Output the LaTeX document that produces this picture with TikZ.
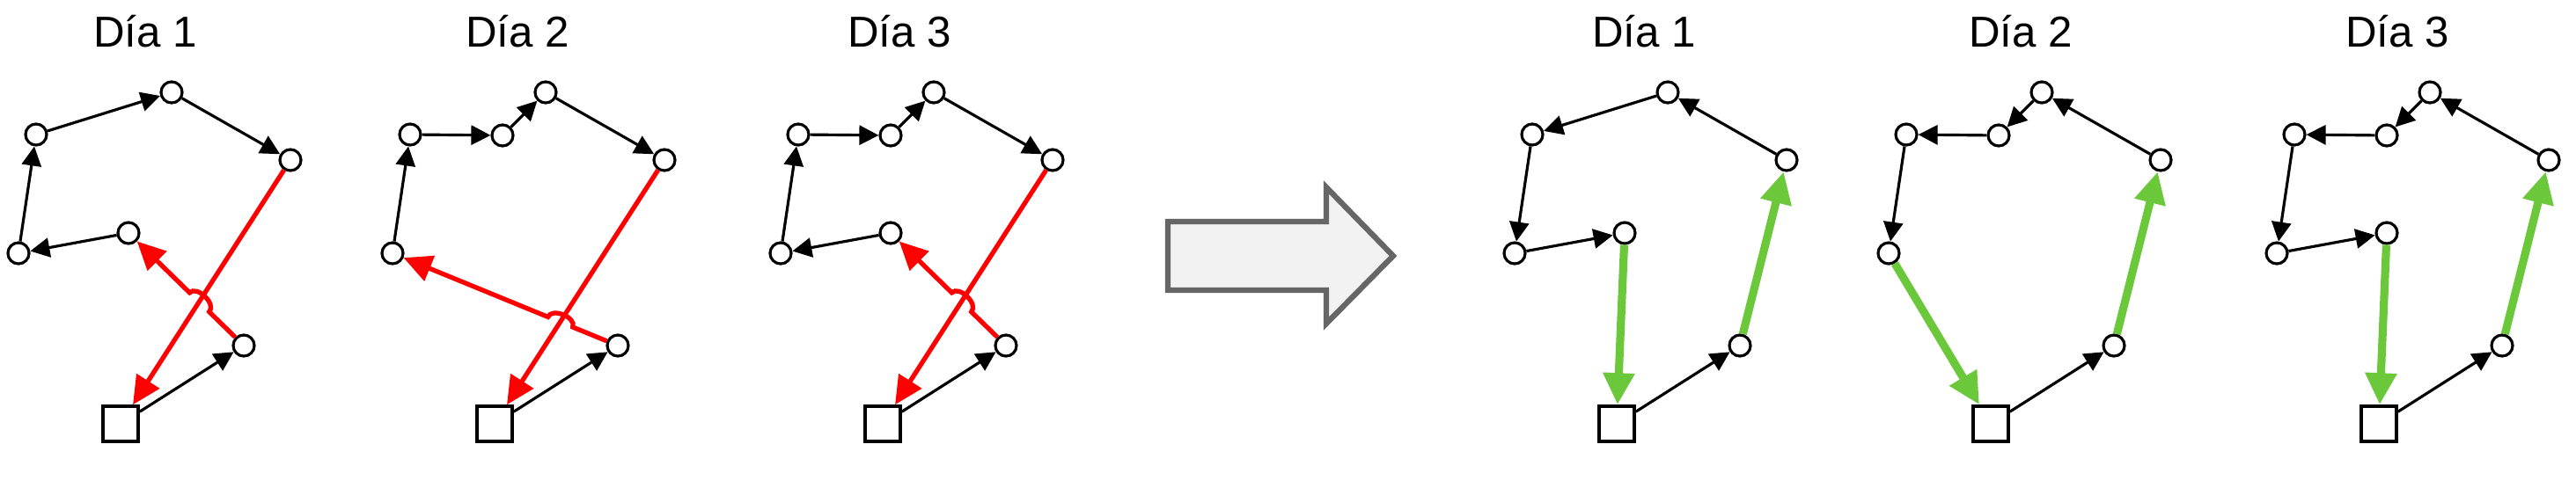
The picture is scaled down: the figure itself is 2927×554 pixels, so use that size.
\documentclass[tikz,border=0pt]{standalone}
\usepackage{fontspec}
\setmainfont{Liberation Sans}
\usepackage{tikz}
\usetikzlibrary{arrows.meta,calc}
\definecolor{verde}{RGB}{106,200,58}

\begin{document}
\begin{tikzpicture}[x=0.01cm,y=-0.01cm,
    tramo/.style={line width=0.9pt,-{Triangle[length=0.22cm,width=0.22cm]}},
    malo/.style={red,line width=1.5pt,-{Triangle[length=0.32cm,width=0.3cm]}},
    bueno/.style={verde,line width=2.6pt,-{Triangle[length=0.36cm,width=0.34cm]}}]
    \tikzstyle{cliente}=[circle,draw,line width=0.9pt,minimum size=0.24cm,inner sep=0pt,fill=white]
    \tikzstyle{deposito}=[rectangle,draw,line width=1pt,minimum size=0.4cm,inner sep=0pt,fill=white]
    \tikzstyle{titulo}=[anchor=base,font=\fontsize{14}{16}\selectfont]
    \useasboundingbox (0,0) rectangle (2927,554);

    \begin{scope}[shift={(137,0)}]
        \node[titulo] (t1) at (28,53) {Día 1};
        \node[deposito] (dep1) at (0,482) {};
        \node[cliente] (a1) at (58,105) {};
        \node[cliente] (b1) at (193,182) {};
        \node[cliente] (c1) at (-96,153) {};
        \node[cliente] (d1) at (-116,288) {};
        \node[cliente] (e1) at (9,265) {};
        \node[cliente] (f1) at (140,393) {};
        \draw[tramo] (dep1) -- (f1);
        \draw[malo] (f1) -- ($(f1)!0.3!(e1)$) to[bend right=90] ($(f1)!0.47!(e1)$) -- (e1);
        \draw[tramo] (e1) -- (d1);
        \draw[tramo] (d1) -- (c1);
        \draw[tramo] (c1) -- (a1);
        \draw[tramo] (a1) -- (b1);
        \draw[malo] (b1) -- (dep1);
    \end{scope}

    \begin{scope}[shift={(562,0)}]
        \node[titulo] (t2) at (26,53) {Día 2};
        \node[deposito] (dep2) at (0,482) {};
        \node[cliente] (a2) at (58,105) {};
        \node[cliente] (b2) at (193,182) {};
        \node[cliente] (c2) at (-96,153) {};
        \node[cliente] (g2) at (9,154) {};
        \node[cliente] (d2) at (-116,288) {};
        \node[cliente] (f2) at (140,393) {};
        \draw[tramo] (dep2) -- (f2);
        \draw[malo] (f2) -- ($(f2)!0.2!(d2)$) to[bend right=90] ($(f2)!0.31!(d2)$) -- (d2);
        \draw[tramo] (d2) -- (c2);
        \draw[tramo] (c2) -- (g2);
        \draw[tramo] (g2) -- (a2);
        \draw[tramo] (a2) -- (b2);
        \draw[malo] (b2) -- (dep2);
    \end{scope}

    \begin{scope}[shift={(1003,0)}]
        \node[titulo] (t3) at (19,53) {Día 3};
        \node[deposito] (dep3) at (0,482) {};
        \node[cliente] (a3) at (58,105) {};
        \node[cliente] (b3) at (193,182) {};
        \node[cliente] (c3) at (-96,153) {};
        \node[cliente] (g3) at (9,154) {};
        \node[cliente] (d3) at (-116,288) {};
        \node[cliente] (e3) at (9,265) {};
        \node[cliente] (f3) at (140,393) {};
        \draw[tramo] (dep3) -- (f3);
        \draw[malo] (f3) -- ($(f3)!0.3!(e3)$) to[bend right=90] ($(f3)!0.47!(e3)$) -- (e3);
        \draw[tramo] (e3) -- (d3);
        \draw[tramo] (d3) -- (c3);
        \draw[tramo] (c3) -- (g3);
        \draw[tramo] (g3) -- (a3);
        \draw[tramo] (a3) -- (b3);
        \draw[malo] (b3) -- (dep3);
    \end{scope}

    \draw[draw=gray!80!black,line width=1.8pt,fill=gray!10]
        (1327,252) -- (1507,252) -- (1507,213) -- (1583,291) -- (1507,368) -- (1507,330) -- (1327,330) -- cycle;

    \begin{scope}[shift={(1837,0)}]
        \node[titulo] (t4) at (31,53) {Día 1};
        \node[deposito] (dep4) at (0,482) {};
        \node[cliente] (a4) at (58,105) {};
        \node[cliente] (b4) at (193,182) {};
        \node[cliente] (c4) at (-96,153) {};
        \node[cliente] (d4) at (-116,288) {};
        \node[cliente] (e4) at (9,265) {};
        \node[cliente] (f4) at (140,393) {};
        \draw[tramo] (dep4) -- (f4);
        \draw[bueno] (f4) -- (b4);
        \draw[tramo] (b4) -- (a4);
        \draw[tramo] (a4) -- (c4);
        \draw[tramo] (c4) -- (d4);
        \draw[tramo] (d4) -- (e4);
        \draw[bueno] (e4) -- (dep4);
    \end{scope}

    \begin{scope}[shift={(2262,0)}]
        \node[titulo] (t5) at (34,53) {Día 2};
        \node[deposito] (dep5) at (0,482) {};
        \node[cliente] (a5) at (58,105) {};
        \node[cliente] (b5) at (193,182) {};
        \node[cliente] (c5) at (-96,153) {};
        \node[cliente] (g5) at (9,154) {};
        \node[cliente] (d5) at (-116,288) {};
        \node[cliente] (f5) at (140,393) {};
        \draw[tramo] (dep5) -- (f5);
        \draw[bueno] (f5) -- (b5);
        \draw[tramo] (b5) -- (a5);
        \draw[tramo] (a5) -- (g5);
        \draw[tramo] (g5) -- (c5);
        \draw[tramo] (c5) -- (d5);
        \draw[bueno] (d5) -- (dep5);
    \end{scope}

    \begin{scope}[shift={(2703,0)}]
        \node[titulo] (t6) at (21,53) {Día 3};
        \node[deposito] (dep6) at (0,482) {};
        \node[cliente] (a6) at (58,105) {};
        \node[cliente] (b6) at (193,182) {};
        \node[cliente] (c6) at (-96,153) {};
        \node[cliente] (g6) at (9,154) {};
        \node[cliente] (d6) at (-116,288) {};
        \node[cliente] (e6) at (9,265) {};
        \node[cliente] (f6) at (140,393) {};
        \draw[tramo] (dep6) -- (f6);
        \draw[bueno] (f6) -- (b6);
        \draw[tramo] (b6) -- (a6);
        \draw[tramo] (a6) -- (g6);
        \draw[tramo] (g6) -- (c6);
        \draw[tramo] (c6) -- (d6);
        \draw[tramo] (d6) -- (e6);
        \draw[bueno] (e6) -- (dep6);
    \end{scope}
\end{tikzpicture}
\end{document}
